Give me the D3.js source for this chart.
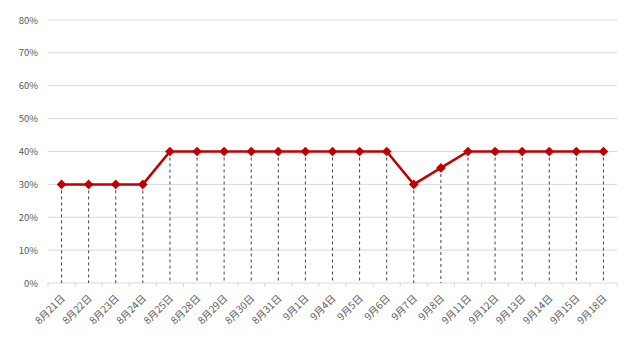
<!DOCTYPE html>
<html>
<head>
<meta charset="utf-8">
<script src="https://cdn.jsdelivr.net/npm/d3@7"></script>
<style>
  body { margin: 0; background: #fff; }
  text { font-family: "Noto Sans CJK SC", "Liberation Sans", sans-serif; fill: #595959; }
</style>
</head>
<body>
<svg id="chart" width="640" height="349"></svg>
<script>
const dates = ["8月21日","8月22日","8月23日","8月24日","8月25日","8月28日","8月29日","8月30日","8月31日",
  "9月1日","9月4日","9月5日","9月6日","9月7日","9月8日","9月11日","9月12日","9月13日","9月14日","9月15日","9月18日"]
const rates = [0.30,0.30,0.30,0.30,0.40,0.40,0.40,0.40,0.40,0.40,0.40,0.40,0.40,0.30,0.35,0.40,0.40,0.40,0.40,0.40,0.40]
const yTicks = [0,0.1,0.2,0.3,0.4,0.5,0.6,0.7,0.8]

const svg = d3.select('#chart')
const plotLeft = 48, plotRight = 617, plotTop = 20, plotBottom = 283

let x = d3.scaleBand().domain(dates).range([plotLeft, plotRight])
let y = d3.scaleLinear().domain([0, 0.8]).range([plotBottom, plotTop])

// gridlines
svg.append('g').selectAll('line').data(yTicks.slice(1)).enter().append('line')
  .attr('x1', plotLeft).attr('x2', plotRight)
  .attr('y1', d => y(d)).attr('y2', d => y(d))
  .attr('stroke', '#d9d9d9').attr('stroke-width', 1)

// y labels
svg.append('g').selectAll('text').data(yTicks).enter().append('text')
  .attr('x', 38).attr('y', d => y(d) + 3.5)
  .attr('text-anchor', 'end').attr('font-size', 9.5)
  .text(d3.format('.0%'))

// x axis
let xAxis = svg.append('g').attr('transform', 'translate(0,' + plotBottom + ')')
xAxis.append('line').attr('x1', plotLeft).attr('x2', plotRight).attr('stroke', '#d9d9d9')
let bounds = dates.map(d => x(d)).concat([plotRight])
xAxis.selectAll('line.tick').data(bounds).enter().append('line').attr('class', 'tick')
  .attr('x1', d => d).attr('x2', d => d).attr('y1', 0).attr('y2', 4)
  .attr('stroke', '#d9d9d9')
xAxis.selectAll('text').data(dates).enter().append('text')
  .attr('transform', d => 'translate(' + (x(d) + x.bandwidth() / 2 - 1) + ',11) rotate(-45)')
  .attr('text-anchor', 'end').attr('dy', '0.7em').attr('font-size', 10)
  .text(d => d)

const cx = (d, i) => x(dates[i]) + x.bandwidth() / 2

// drop lines
svg.append('g').selectAll('line').data(rates).enter().append('line')
  .attr('x1', cx).attr('x2', cx)
  .attr('y1', d => y(d)).attr('y2', plotBottom)
  .attr('stroke', '#404040').attr('stroke-width', 1).attr('stroke-dasharray', '3,3')

// series line
svg.append('path').datum(rates)
  .attr('d', d3.line().x(cx).y(d => y(d)))
  .attr('fill', 'none').attr('stroke', '#c00000').attr('stroke-width', 2.5)

// markers
svg.append('g').selectAll('path').data(rates).enter().append('path')
  .attr('d', d3.symbol().type(d3.symbolDiamond2).size(60))
  .attr('transform', (d, i) => 'translate(' + cx(d, i) + ',' + y(d) + ')')
  .attr('fill', '#c00000')
</script>
</body>
</html>
